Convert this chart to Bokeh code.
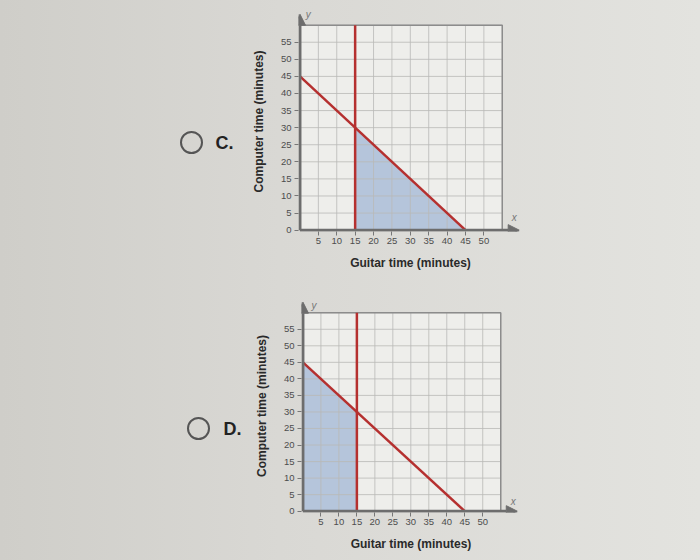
from bokeh.plotting import figure
from bokeh.layouts import row, column
from bokeh.models import Range1d, FixedTicker, Arrow, NormalHead, Label
from bokeh.core.properties import value
from bokeh.embed import file_html
from bokeh.resources import INLINE

# ---- data ----
x_ticks = [5, 10, 15, 20, 25, 30, 35, 40, 45, 50]
y_ticks = [0, 5, 10, 15, 20, 25, 30, 35, 40, 45, 50, 55]
grid_x = [0, 5, 10, 15, 20, 25, 30, 35, 40, 45, 50, 55]
grid_y = [0, 5, 10, 15, 20, 25, 30, 35, 40, 45, 50, 55, 60]
x_max = 55
y_max = 60
budget_x = [0, 45]          # guitar + computer = 45
budget_y = [45, 0]
guitar_limit = 15           # guitar = 15
shade_c_x = [15, 15, 45]
shade_c_y = [0, 30, 0]
shade_d_x = [0, 0, 15, 15]
shade_d_y = [0, 45, 30, 0]
options = ["C.", "D."]

FONT = value("Liberation Sans")
FONT_NAME = "Liberation Sans"
RED = "#b5302f"
GRAY = "#6d6d6d"
FILL = "#b5c5db"
LETTER_W = 240
X0, X1 = -0.4, 60.5
Y0, Y1 = -0.4, 64


def frame_geom(ox, oy, sx, sy, fig_top, fig_h):
    fw = int(round((X1 - X0) * sx))
    fh = int(round((Y1 - Y0) * sy))
    left_page = ox + X0 * sx
    top_page = oy - Y1 * sy
    bl = int(round(left_page - 8 - LETTER_W))
    bt = int(round(top_page - fig_top))
    bb = fig_h - bt - fh
    return fw, fh, bl, bt, bb


def make_letter(label, cx, cy, tx, geom, fig_top):
    fw, fh, bl, bt, bb = geom
    top_page = fig_top + bt
    bottom_page = top_page + fh
    p = figure(frame_width=LETTER_W, frame_height=fh,
               x_range=Range1d(8, 8 + LETTER_W), y_range=Range1d(bottom_page, top_page),
               x_axis_type=None, y_axis_type=None, toolbar_location=None,
               output_backend="svg", min_border_left=0, min_border_right=0,
               min_border_top=bt, min_border_bottom=bb)
    p.background_fill_color = None
    p.border_fill_color = None
    p.outline_line_color = None
    p.grid.visible = False
    p.scatter([cx], [cy], size=21, marker="circle", fill_color=None, line_color="#555555", line_width=2)
    p.text([tx], [cy], text=[label], text_font=FONT, text_font_style="bold", text_font_size="18px",
           text_color="#222222", text_baseline="middle", text_align="left")
    return p


def make_chart(shade_x, shade_y, geom, ylab, xlab):
    fw, fh, bl, bt, bb = geom
    p = figure(frame_width=fw, frame_height=fh, x_range=Range1d(X0, X1), y_range=Range1d(Y0, Y1),
               toolbar_location=None, output_backend="svg",
               min_border_left=bl, min_border_top=bt, min_border_bottom=bb, min_border_right=10)
    p.background_fill_color = None
    p.border_fill_color = None
    p.outline_line_color = None
    p.grid.visible = False

    # plotting area
    p.quad(left=[0], right=[x_max], bottom=[0], top=[y_max], fill_color="#eeeeeb", line_color=None)
    # feasible region
    p.patch(shade_x, shade_y, fill_color=FILL, line_color=None)
    # grid
    p.segment(x0=grid_x, y0=[0] * len(grid_x), x1=grid_x, y1=[y_max] * len(grid_x),
              line_color="#b9b9b7", line_alpha=0.8, line_width=1)
    p.segment(x0=[0] * len(grid_y), y0=grid_y, x1=[x_max] * len(grid_y), y1=grid_y,
              line_color="#b9b9b7", line_alpha=0.8, line_width=1)
    # frame top/right
    p.line([0, x_max, x_max], [y_max, y_max, 0], line_color="#8c8c8c", line_width=1.5)
    # constraint lines
    p.line(budget_x, budget_y, line_color=RED, line_width=2.5)
    p.line([guitar_limit, guitar_limit], [0, y_max], line_color=RED, line_width=2.5)
    # axis arrows
    p.add_layout(Arrow(end=NormalHead(size=11, fill_color=GRAY, line_color=GRAY),
                       x_start=0, y_start=0, x_end=59.6, y_end=0, line_color=GRAY, line_width=3))
    p.add_layout(Arrow(end=NormalHead(size=11, fill_color=GRAY, line_color=GRAY),
                       x_start=0, y_start=0, x_end=0, y_end=63.2, line_color=GRAY, line_width=3))
    # axis names
    p.add_layout(Label(x=ylab[0], y=ylab[1], text="y", text_font=FONT_NAME, text_font_style="italic",
                       text_font_size="10px", text_color="#777777", text_baseline="middle"))
    p.add_layout(Label(x=xlab[0], y=xlab[1], text="x", text_font=FONT_NAME, text_font_style="italic",
                       text_font_size="10px", text_color="#777777", text_baseline="middle"))

    for ax, ticks in ((p.xaxis, x_ticks), (p.yaxis, y_ticks)):
        ax.ticker = FixedTicker(ticks=ticks)
        ax.axis_line_color = None
        ax.major_tick_line_color = "#777777"
        ax.major_tick_out = 4
        ax.major_tick_in = 0
        ax.minor_tick_line_color = None
        ax.major_label_text_font = FONT_NAME
        ax.major_label_text_font_size = "9.5px"
        ax.major_label_text_color = "#4d4d4d"
        ax.axis_label_text_font = FONT_NAME
        ax.axis_label_text_font_style = "bold"
        ax.axis_label_text_font_size = "12px"
        ax.axis_label_text_color = "#2a2a2a"
    p.xaxis.axis_label = "Guitar time (minutes)"
    p.yaxis.axis_label = "Computer time (minutes)"
    p.xaxis.major_label_standoff = 2
    p.yaxis.major_label_standoff = 3
    p.xaxis.axis_label_standoff = 9
    p.yaxis.axis_label_standoff = 12
    return p


H1 = 275
H2 = 269
geom_c = frame_geom(ox=298.3, oy=229.3, sx=3.68, sy=3.41, fig_top=8, fig_h=H1)
geom_d = frame_geom(ox=302, oy=510.7, sx=3.6, sy=3.3, fig_top=8 + H1, fig_h=H2)

letter_c = make_letter(options[0], 191, 142, 215, geom_c, 8)
chart_c = make_chart(shade_c_x, shade_c_y, geom_c, ylab=(1.6, 63), xlab=(57.6, 3.7))
letter_d = make_letter(options[1], 198, 428, 223, geom_d, 8 + H1)
chart_d = make_chart(shade_d_x, shade_d_y, geom_d, ylab=(2.4, 62.3), xlab=(57.8, 3))

layout = column(row(letter_c, chart_c), row(letter_d, chart_d))
html = file_html(layout, INLINE)
style = ("<style>html,body{margin:0;padding:0}body{margin:8px;"
         "background:linear-gradient(90deg,#cfcec9 0%,#d9d8d4 40%,#e3e3df 100%);}</style>")
html = html.replace("</head>", style + "</head>", 1)
open("out.html", "w").write(html)
